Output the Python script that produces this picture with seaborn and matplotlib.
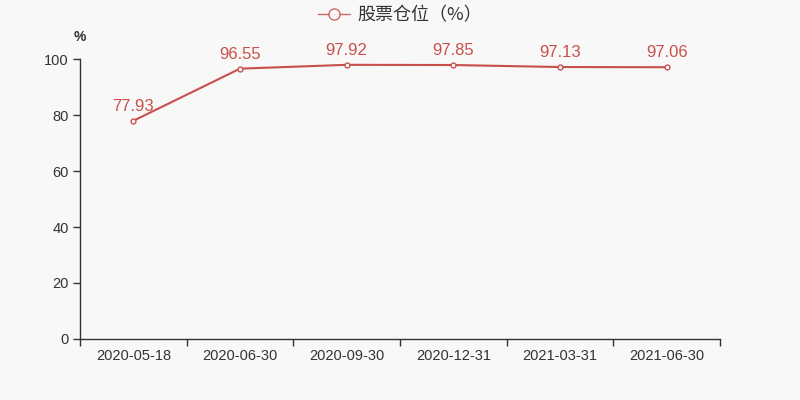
import pandas as pd
import numpy as np
import matplotlib.pyplot as plt
import seaborn as sns

# data
dates = ['2020-05-18', '2020-06-30', '2020-09-30', '2020-12-31', '2021-03-31', '2021-06-30']
stock_position = [77.93, 96.55, 97.92, 97.85, 97.13, 97.06]
series_name = '股票仓位（%）'

df = pd.DataFrame({'date': dates, 'value': stock_position})

sns.set_style('white')
plt.rcParams['font.family'] = ['Liberation Sans', 'Noto Sans CJK SC', 'DejaVu Sans']
plt.rcParams['axes.unicode_minus'] = False

line_color = '#c8504b'
axis_color = '#333333'

fig = plt.figure(figsize=(8, 4), dpi=100, facecolor='#f8f8f8')
ax = fig.add_axes([0.1, 0.1525, 0.8, 0.7])
ax.set_facecolor('#f8f8f8')

sns.lineplot(data=df, x='date', y='value', ax=ax, color=line_color, linewidth=1.5,
             marker='o', markersize=3.5, markerfacecolor='white',
             markeredgecolor=line_color, markeredgewidth=1, label=series_name, sort=False)

# value labels
for i, v in enumerate(stock_position):
    ax.text(i, v + 2.5, f'{v:.2f}', ha='center', va='bottom', color=line_color, fontsize=12)

ax.set_ylim(0, 100)
ax.set_yticks(range(0, 101, 20))
ax.set_xlim(-0.5, len(dates) - 0.5)

# category boundaries as major ticks, labels centred as minor ticks
ax.set_xticks(np.arange(-0.5, len(dates), 1.0))
ax.set_xticklabels([])
ax.set_xticks(range(len(dates)), minor=True)
ax.set_xticklabels(dates, minor=True)
ax.tick_params(axis='x', which='major', bottom=True, length=5, width=1,
               color=axis_color, direction='out')
ax.tick_params(axis='x', which='minor', bottom=True, length=0, pad=7,
               labelsize=10.5, labelcolor=axis_color)
ax.tick_params(axis='y', left=True, length=5, width=1, color=axis_color, direction='out',
               labelsize=10.5, labelcolor=axis_color, pad=3)

for s in ['top', 'right']:
    ax.spines[s].set_visible(False)
for s in ['left', 'bottom']:
    ax.spines[s].set_color(axis_color)
    ax.spines[s].set_linewidth(1)

ax.set_xlabel('')
ax.set_ylabel('')
ax.text(0, 1.055, '%', transform=ax.transAxes, ha='center', va='bottom',
        fontsize=10, color=axis_color, fontweight='bold')

leg = ax.legend(loc='upper center', bbox_to_anchor=(0.5, 1.245), frameon=False,
                handlelength=1.8, handletextpad=0.4,
                prop={'family': ['Noto Sans CJK SC', 'DejaVu Sans'], 'size': 13})
for t in leg.get_texts():
    t.set_color(axis_color)
for h in leg.legend_handles:
    h.set_markersize(8)
    h.set_linewidth(1)
    h.set_alpha(0.85)

fig.savefig('out.png', dpi=100, facecolor=fig.get_facecolor())
